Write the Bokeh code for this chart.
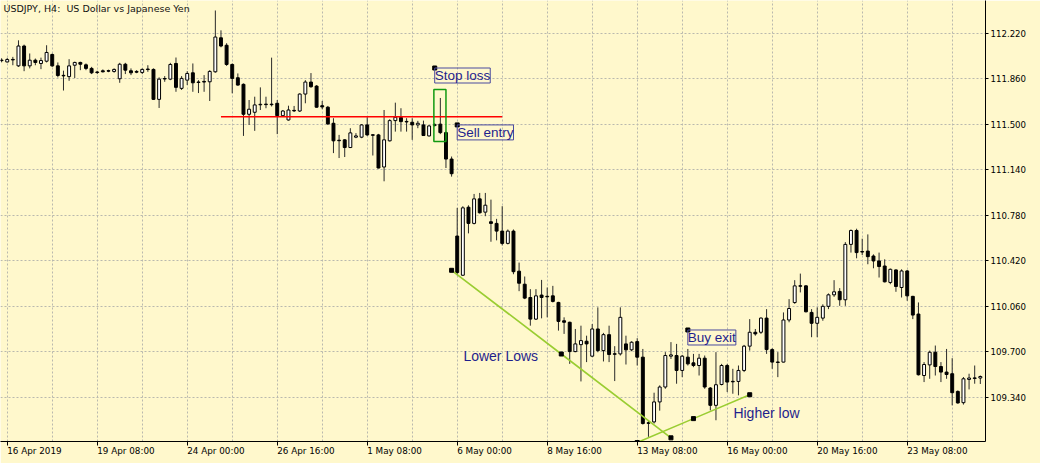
from bokeh.plotting import figure
from bokeh.models import Range1d, FixedTicker, PrintfTickFormatter, Label, ColumnDataSource
from bokeh.embed import file_html
from bokeh.resources import INLINE

# ---------------- data (USDJPY H4) ----------------
opens = [112.007, 111.993, 112.012, 111.962, 112.119, 111.962, 112.007, 111.981, 111.999, 112.052,
         111.962, 111.886, 111.877, 111.967, 111.989, 111.970, 111.942, 111.912, 111.923, 111.923,
         111.918, 111.860, 111.975, 111.923, 111.918, 111.910, 111.936, 111.934, 111.697, 111.861,
         111.857, 111.981, 111.784, 111.849, 111.907, 111.834, 111.839, 111.836, 111.915, 112.184,
         112.125, 111.973, 111.868, 111.816, 111.579, 111.595, 111.655, 111.658, 111.658, 111.666,
         111.568, 111.534, 111.609, 111.605, 111.739, 111.834, 111.802, 111.647, 111.635, 111.508,
         111.373, 111.377, 111.316, 111.398, 111.398, 111.495, 111.416, 111.416, 111.162, 111.369,
         111.529, 111.553, 111.521, 111.516, 111.495, 111.495, 111.408, 111.495, 111.501, 111.434,
         111.225, 110.616, 110.306, 110.844, 110.716, 110.910, 110.805, 110.729, 110.716, 110.655,
         110.558, 110.655, 110.338, 110.235, 110.130, 109.959, 110.149, 110.139, 110.143, 110.091,
         109.946, 109.934, 109.702, 109.757, 109.784, 109.666, 109.881, 109.710, 109.836, 109.684,
         109.684, 109.763, 109.716, 109.781, 109.658, 109.138, 109.146, 109.304, 109.422, 109.666,
         109.671, 109.553, 109.658, 109.613, 109.592, 109.650, 109.414, 109.277, 109.442, 109.592,
         109.466, 109.466, 109.553, 109.745, 109.855, 109.855, 109.967, 109.718, 109.619, 109.619,
         109.952, 110.090, 110.222, 110.222, 110.012, 109.926, 109.967, 110.060, 110.151, 110.178,
         110.112, 110.550, 110.660, 110.493, 110.497, 110.458, 110.419, 110.379, 110.249, 110.348,
         110.209, 110.340, 110.139, 109.999, 109.513, 109.597, 109.697, 109.584, 109.540, 109.527,
         109.387, 109.298, 109.482, 109.493, 109.493]

highs = [112.022, 112.025, 112.033, 112.164, 112.130, 112.060, 112.020, 112.027, 112.125, 112.060,
         111.989, 111.924, 112.015, 111.995, 111.995, 111.981, 111.954, 111.923, 111.934, 111.932,
         111.942, 111.986, 111.986, 111.942, 111.928, 111.942, 111.967, 111.942, 111.871, 111.881,
         111.986, 112.028, 111.881, 111.920, 111.981, 111.849, 111.889, 111.928, 112.400, 112.243,
         112.141, 111.981, 111.902, 111.823, 111.692, 111.718, 111.792, 111.718, 112.027, 111.692,
         111.613, 111.647, 111.645, 111.745, 111.849, 111.905, 111.810, 111.684, 111.645, 111.548,
         111.416, 111.382, 111.469, 111.430, 111.501, 111.556, 111.422, 111.424, 111.613, 111.540,
         111.671, 111.627, 111.548, 111.548, 111.527, 111.529, 111.493, 111.508, 111.708, 111.442,
         111.245, 110.839, 110.852, 110.859, 110.949, 110.957, 110.957, 110.904, 110.752, 110.852,
         110.668, 110.668, 110.406, 110.296, 110.196, 110.196, 110.269, 110.209, 110.222, 110.096,
         109.973, 109.939, 109.881, 109.907, 109.828, 109.920, 110.052, 109.850, 109.907, 109.745,
         110.052, 109.828, 109.784, 109.808, 109.723, 109.159, 109.377, 109.435, 109.698, 109.777,
         109.763, 109.676, 109.723, 109.684, 109.684, 109.671, 109.422, 109.698, 109.605, 109.605,
         109.566, 109.592, 109.755, 109.959, 109.881, 109.973, 110.038, 109.729, 109.698, 110.012,
         110.117, 110.267, 110.319, 110.227, 110.038, 110.052, 110.076, 110.162, 110.267, 110.204,
         110.568, 110.668, 110.674, 110.595, 110.629, 110.471, 110.485, 110.432, 110.359, 110.353,
         110.353, 110.348, 110.143, 110.091, 109.619, 109.710, 109.750, 109.619, 109.723, 109.650,
         109.395, 109.501, 109.527, 109.592, 109.513]

lows = [111.990, 111.989, 111.967, 111.954, 111.920, 111.942, 111.967, 111.936, 111.989, 111.954,
        111.871, 111.767, 111.844, 111.865, 111.928, 111.928, 111.897, 111.897, 111.910, 111.912,
        111.908, 111.828, 111.897, 111.889, 111.904, 111.897, 111.915, 111.692, 111.629, 111.836,
        111.849, 111.757, 111.771, 111.810, 111.757, 111.747, 111.757, 111.684, 111.908, 112.109,
        111.962, 111.745, 111.805, 111.408, 111.495, 111.448, 111.613, 111.627, 111.641, 111.422,
        111.560, 111.529, 111.597, 111.597, 111.666, 111.789, 111.632, 111.619, 111.495, 111.272,
        111.233, 111.241, 111.312, 111.390, 111.390, 111.408, 111.253, 111.151, 111.049, 111.364,
        111.442, 111.442, 111.442, 111.377, 111.469, 111.408, 111.403, 111.482, 111.422, 111.154,
        111.086, 110.306, 110.301, 110.637, 110.708, 110.794, 110.773, 110.571, 110.582, 110.542,
        110.550, 110.314, 110.180, 110.117, 109.907, 109.952, 109.965, 109.973, 110.091, 109.868,
        109.842, 109.605, 109.697, 109.466, 109.619, 109.658, 109.697, 109.624, 109.619, 109.469,
        109.671, 109.600, 109.705, 109.592, 109.125, 109.028, 109.133, 109.235, 109.408, 109.644,
        109.448, 109.500, 109.592, 109.579, 109.513, 109.408, 109.237, 109.159, 109.435, 109.383,
        109.369, 109.356, 109.540, 109.710, 109.828, 109.842, 109.684, 109.566, 109.500, 109.617,
        109.934, 110.080, 110.170, 110.012, 109.816, 109.816, 109.946, 110.038, 110.135, 110.064,
        110.064, 110.485, 110.440, 110.466, 110.393, 110.361, 110.288, 110.249, 110.235, 110.175,
        110.130, 110.104, 109.959, 109.513, 109.461, 109.487, 109.513, 109.461, 109.487, 109.277,
        109.290, 109.283, 109.403, 109.448, 109.446]

closes = [112.004, 112.012, 112.010, 112.119, 111.962, 112.007, 111.989, 112.004, 112.068, 111.962,
          111.886, 111.884, 111.962, 111.989, 111.975, 111.942, 111.907, 111.911, 111.915, 111.921,
          111.934, 111.975, 111.928, 111.907, 111.912, 111.934, 111.934, 111.697, 111.857, 111.859,
          111.973, 111.792, 111.863, 111.902, 111.828, 111.831, 111.834, 111.918, 112.190, 112.119,
          111.973, 111.863, 111.810, 111.579, 111.619, 111.653, 111.657, 111.657, 111.656, 111.568,
          111.605, 111.613, 111.607, 111.739, 111.834, 111.797, 111.635, 111.637, 111.503, 111.369,
          111.371, 111.316, 111.432, 111.408, 111.495, 111.416, 111.414, 111.154, 111.377, 111.529,
          111.556, 111.521, 111.520, 111.495, 111.508, 111.411, 111.487, 111.493, 111.434, 111.225,
          111.109, 110.327, 110.839, 110.716, 110.910, 110.800, 110.860, 110.716, 110.655, 110.558,
          110.655, 110.334, 110.243, 110.125, 109.959, 110.143, 110.130, 110.136, 110.099, 109.941,
          109.934, 109.702, 109.763, 109.789, 109.763, 109.881, 109.710, 109.836, 109.679, 109.682,
          109.973, 109.716, 109.776, 109.658, 109.133, 109.136, 109.304, 109.422, 109.671, 109.676,
          109.553, 109.666, 109.605, 109.592, 109.650, 109.422, 109.277, 109.440, 109.592, 109.461,
          109.464, 109.553, 109.745, 109.855, 109.842, 109.967, 109.718, 109.619, 109.617, 109.952,
          110.043, 110.222, 110.220, 110.017, 109.926, 109.973, 110.060, 110.151, 110.175, 110.112,
          110.550, 110.660, 110.485, 110.490, 110.453, 110.419, 110.375, 110.254, 110.353, 110.217,
          110.340, 110.143, 109.991, 109.519, 109.600, 109.697, 109.584, 109.540, 109.521, 109.377,
          109.296, 109.487, 109.493, 109.491, 109.505]

# time axis (bar index -> label)
date_tick_bars = [1, 17, 33, 49, 65, 81, 97, 113, 129, 145, 161]
date_tick_labels = ["16 Apr 2019", "19 Apr 08:00", "24 Apr 00:00", "26 Apr 16:00", "1 May 08:00",
                    "6 May 00:00", "8 May 16:00", "13 May 08:00", "16 May 00:00", "20 May 16:00",
                    "23 May 08:00"]
grid_bars = [1 + 8 * k for k in range(22)]
price_ticks = [109.34, 109.70, 110.06, 110.42, 110.78, 111.14, 111.50, 111.86, 112.22]

# drawn objects
sell_level = 111.560
sell_level_bars = [39, 89]
signal_box = dict(left=76.85, right=79.0, top=111.776, bottom=111.364)
lower_lows_bars = [80, 99.5, 119]
lower_lows_prices = [110.345, 109.683, 109.020]
higher_low_bars = [113, 123, 133]
higher_low_prices = [108.983, 109.172, 109.361]
boxed_texts = ["Stop loss", "Sell entry", "Buy exit"]
boxed_bars = [77.0, 81.0, 122.0]
boxed_prices = [111.945, 111.495, 109.873]
free_texts = ["Lower Lows", "Higher low"]
free_bars = [82.1, 130.1]
free_prices = [109.669, 109.213]
title_text = "USDJPY, H4:\u00a0 US Dollar vs Japanese Yen"

# ---------------- styling ----------------
BG = "#FFF8CC"
NAVY = "#1F1F8C"
BOXLINE = "#4A4A9E"
SMALL_FONT = "DejaVu Sans"

n = len(opens)
idx = list(range(n))
min_h = 0.004
tops, bots, fills = [], [], []
for o, c in zip(opens, closes):
    t, b = max(o, c), min(o, c)
    if t - b < min_h:
        m = (t + b) / 2
        t, b = m + min_h / 2, m - min_h / 2
    tops.append(t)
    bots.append(b)
    fills.append("white" if c >= o else "black")

src = ColumnDataSource(dict(x=idx, o=opens, h=highs, l=lows, c=closes, top=tops, bot=bots, fill=fills))

p = figure(width=1040, height=463, output_backend="svg", toolbar_location=None,
           x_range=Range1d(-0.196, 174.92), y_range=Range1d(108.991, 112.479),
           y_axis_location="right", min_border_left=0, min_border_top=0,
           min_border_right=55, min_border_bottom=20)
p.background_fill_color = BG
p.border_fill_color = BG
p.outline_line_color = None

# price axis (right)
p.yaxis.ticker = FixedTicker(ticks=price_ticks)
p.yaxis.formatter = PrintfTickFormatter(format="%.3f")
p.yaxis.major_label_text_font = SMALL_FONT
p.yaxis.major_label_text_font_size = "8.6px"
p.yaxis.major_label_text_color = "black"
p.yaxis.major_tick_out = 3
p.yaxis.major_tick_in = 0
p.yaxis.minor_tick_out = 0
p.yaxis.minor_tick_in = 0
p.yaxis.major_label_standoff = 2
p.yaxis.axis_line_color = "black"
p.yaxis.major_tick_line_color = "black"

# time axis (bottom): labels start at their tick
p.xaxis.ticker = FixedTicker(ticks=date_tick_bars)
p.xaxis.major_label_overrides = {b: t for b, t in zip(date_tick_bars, date_tick_labels)}
p.xaxis.major_label_orientation = -1e-6
p.xaxis.major_label_text_font = SMALL_FONT
p.xaxis.major_label_text_font_size = "8.8px"
p.xaxis.major_label_text_color = "black"
p.xaxis.major_label_standoff = 5
p.xaxis.major_tick_out = 4
p.xaxis.major_tick_in = 0
p.xaxis.minor_tick_out = 0
p.xaxis.minor_tick_in = 0
p.xaxis.axis_line_color = "black"
p.xaxis.major_tick_line_color = "black"

p.xgrid.ticker = FixedTicker(ticks=grid_bars)
for g in (p.xgrid, p.ygrid):
    g.grid_line_color = "#B9B9AE"
    g.grid_line_dash = "2 2"
    g.grid_line_width = 1

# candles
p.segment(x0="x", y0="l", x1="x", y1="h", source=src, line_color="#2a2a2a", line_width=1)
p.vbar(x="x", width=0.52, top="top", bottom="bot", source=src,
       fill_color="fill", line_color="black", line_width=1)

# drawn objects
p.line(x=sell_level_bars, y=[sell_level, sell_level], line_color="#FF0000", line_width=1.6)
p.quad(left=[signal_box["left"]], right=[signal_box["right"]], top=[signal_box["top"]],
       bottom=[signal_box["bottom"]], fill_color=None, line_color="#119911", line_width=1.5)
p.line(x=lower_lows_bars, y=lower_lows_prices, line_color="#9ACD32", line_width=1.6)
p.line(x=higher_low_bars, y=higher_low_prices, line_color="#9ACD32", line_width=1.6)
p.scatter(x=lower_lows_bars + higher_low_bars, y=lower_lows_prices + higher_low_prices,
          marker="square", size=4, color="black")
p.scatter(x=boxed_bars, y=boxed_prices, marker="square", size=4, color="black")

for t, bx, by in zip(boxed_texts, boxed_bars, boxed_prices):
    p.add_layout(Label(x=bx, y=by, text=t, text_align="left", text_baseline="top",
                       text_font="Liberation Sans", text_font_size="13.5px", text_color=NAVY,
                       border_line_color=BOXLINE, border_line_width=1))
for t, bx, by in zip(free_texts, free_bars, free_prices):
    p.add_layout(Label(x=bx, y=by, text=t, text_align="left", text_baseline="middle",
                       text_font="Liberation Sans", text_font_size="14px", text_color=NAVY))

# title inside the chart (top-left)
p.add_layout(Label(x=3, y=439, x_units="screen", y_units="screen", text=title_text,
                   text_align="left", text_baseline="top", text_font=SMALL_FONT,
                   text_font_size="9.5px", text_color="#111111"))

open("out.html", "w").write(file_html(p, INLINE))
